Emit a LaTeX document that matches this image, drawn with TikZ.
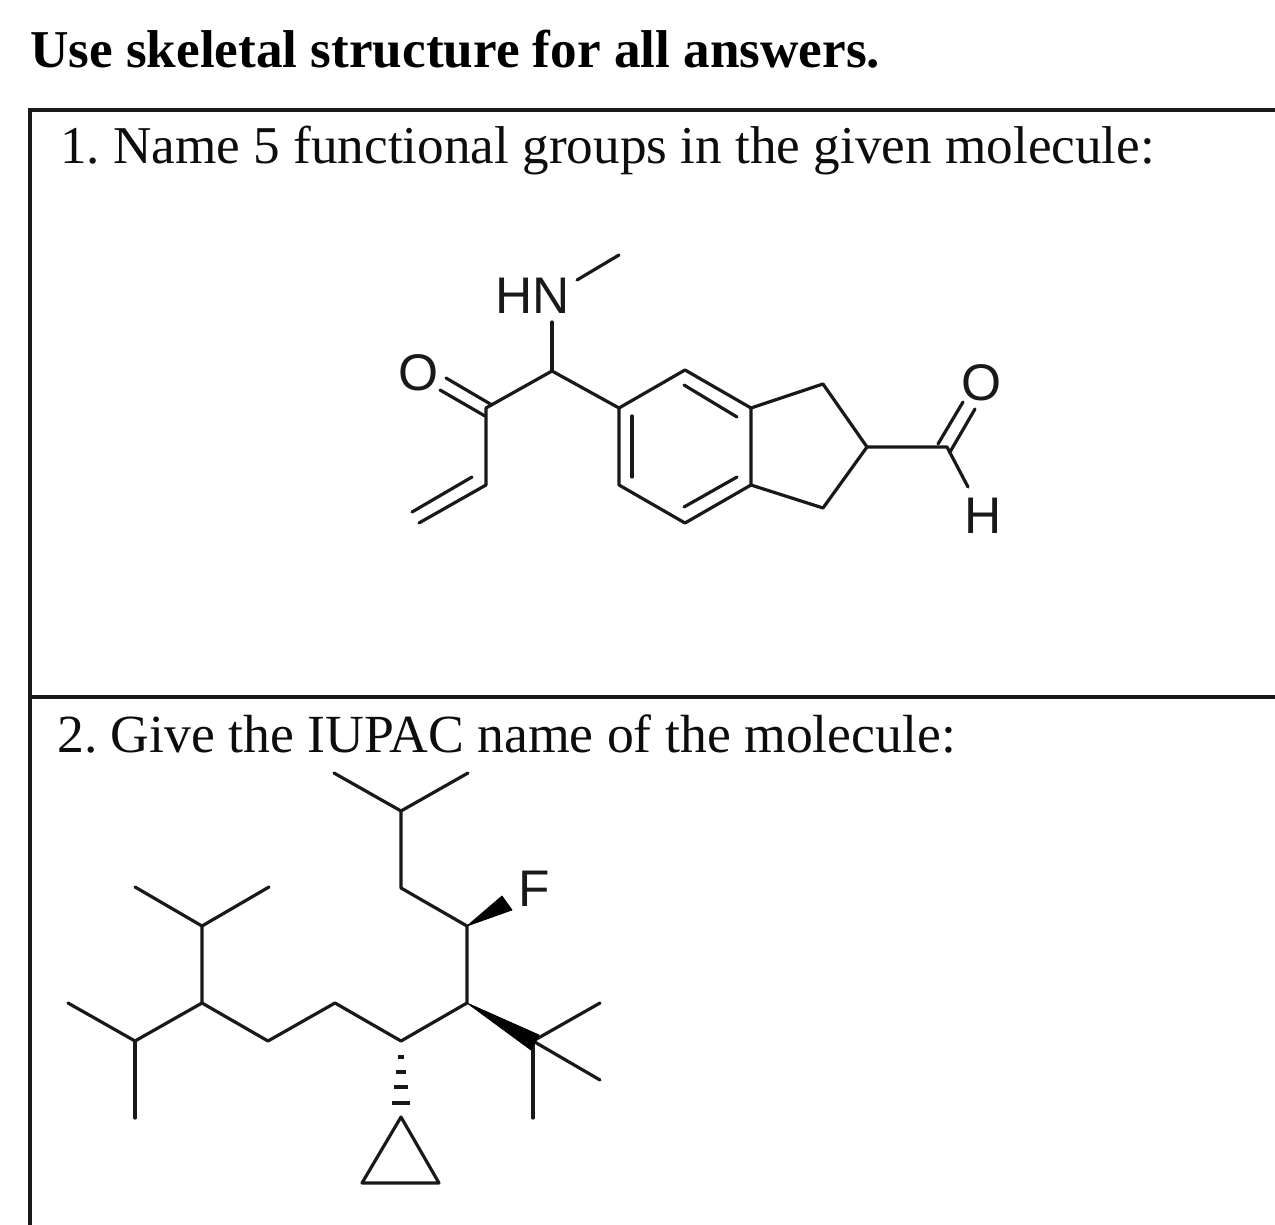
\documentclass[tikz,border=0pt]{standalone}
\usepackage{fontspec}
\setmainfont{Liberation Serif}
\newfontfamily\chemfont{Liberation Sans}
\tikzset{
  bond/.style={line width=3.2pt,line cap=round,line join=round,black!90},
  frameline/.style={line width=3.2pt,black!90},
  wedgefill/.style={fill=black,draw=black,line width=0.8pt,line join=round},
  hashbar/.style={line width=3.2pt,black!90},
  headtext/.style={anchor=base west,inner sep=0pt,font=\fontsize{53.2}{54}\selectfont\bfseries\frenchspacing,black},
  qtext/.style={anchor=base west,inner sep=0pt,font=\fontsize{53.2}{54}\selectfont\frenchspacing,black!95},
  qtextb/.style={anchor=base west,inner sep=0pt,font=\fontsize{53.7}{54}\selectfont\frenchspacing,black!95},
  atomlabel/.style={inner sep=0pt,font=\fontsize{51.5}{52}\selectfont\chemfont,black!90}
}
\begin{document}
\begin{tikzpicture}[x=1pt,y=-1pt]
\useasboundingbox (0,0) rectangle (1275,1225);
% frame
\coordinate (ftl) at (30,110); \coordinate (ftr) at (1275,110);
\coordinate (fbl) at (30,1225); \coordinate (fml) at (30,697); \coordinate (fmr) at (1275,697);
\draw[frameline] (ftr) -- (ftl) -- (fbl);
\draw[frameline] (fml) -- (fmr);
% texts
\node[headtext] (head) at (30,68) {Use skeletal structure for all answers.};
\node[qtext] (q1) at (60,164) {1. Name 5 functional groups in the given molecule:};
\node[qtextb] (q2) at (57,752) {2. Give the IUPAC name of the molecule:};
% molecule 1 atoms
\node[atomlabel] (hn) at (533,296) {HN};
\node[atomlabel] (o1) at (419,373) {O};
\node[atomlabel] (o2) at (982,383) {O};
\node[atomlabel] (h2) at (983,516) {H};
\coordinate (nb) at (552,322); \coordinate (ca) at (552,371);
\coordinate (me1) at (577,280); \coordinate (me2) at (619,255);
\coordinate (ck) at (486,408); \coordinate (cv) at (486,485); \coordinate (ct) at (419,523);
\coordinate (cti1) at (472,477); \coordinate (cti2) at (412,512);
\coordinate (ok1a) at (440,390); \coordinate (ok1b) at (485,416);
\coordinate (ok2a) at (446,378); \coordinate (ok2b) at (492,405);
\coordinate (r1) at (619,408); \coordinate (r2) at (685,370); \coordinate (r3) at (751,408);
\coordinate (r4) at (751,485); \coordinate (r5) at (685,523); \coordinate (r6) at (619,485);
\coordinate (i1a) at (632,416); \coordinate (i1b) at (632,477);
\coordinate (i2a) at (684,385); \coordinate (i2b) at (737,417);
\coordinate (i3a) at (684,507); \coordinate (i3b) at (737,477);
\coordinate (p1) at (823,384); \coordinate (p2) at (867,447); \coordinate (p3) at (823,508);
\coordinate (cho) at (947,447); \coordinate (hb) at (968,487);
\coordinate (oa1) at (938,444); \coordinate (oa2) at (963,402);
\coordinate (ob1) at (950,452); \coordinate (ob2) at (975,409);
% molecule 1 bonds
\draw[bond] (nb) -- (ca);
\draw[bond] (me1) -- (me2);
\draw[bond] (cv) -- (ck) -- (ca) -- (r1);
\draw[bond] (cv) -- (ct);
\draw[bond] (cti1) -- (cti2);
\draw[bond] (ok1a) -- (ok1b);
\draw[bond] (ok2a) -- (ok2b);
\draw[bond] (r1) -- (r2) -- (r3) -- (r4) -- (r5) -- (r6) -- cycle;
\draw[bond] (i1a) -- (i1b);
\draw[bond] (i2a) -- (i2b);
\draw[bond] (i3a) -- (i3b);
\draw[bond] (r3) -- (p1) -- (p2) -- (p3) -- (r4);
\draw[bond] (p2) -- (cho) -- (hb);
\draw[bond] (oa1) -- (oa2);
\draw[bond] (ob1) -- (ob2);
% molecule 2 atoms
\node[atomlabel] (f) at (534,889) {F};
\coordinate (a1) at (334,773); \coordinate (a2) at (468,773); \coordinate (a3) at (401,811);
\coordinate (a4) at (401,888); \coordinate (a5) at (467,926); \coordinate (a6) at (467,1003);
\coordinate (a7) at (401,1041); \coordinate (a8) at (335,1003); \coordinate (a9) at (268,1041);
\coordinate (a10) at (202,1003); \coordinate (a11) at (135,1041); \coordinate (a12) at (68,1003);
\coordinate (a13) at (135,1118); \coordinate (a14) at (202,926); \coordinate (a15) at (135,887);
\coordinate (a16) at (269,887);
\coordinate (tb) at (533,1041); \coordinate (tb1) at (600,1003); \coordinate (tb2) at (600,1080);
\coordinate (tb3) at (533,1118);
\coordinate (w1a) at (502,896); \coordinate (w1b) at (512,910);
\coordinate (w2a) at (539,1035); \coordinate (w2b) at (531,1050);
\coordinate (cp1) at (401,1117); \coordinate (cp2) at (362,1183); \coordinate (cp3) at (439,1183);
% molecule 2 bonds
\draw[bond] (a1) -- (a3) -- (a2);
\draw[bond] (a3) -- (a4) -- (a5) -- (a6) -- (a7) -- (a8) -- (a9) -- (a10) -- (a11) -- (a12);
\draw[bond] (a11) -- (a13);
\draw[bond] (a10) -- (a14) -- (a15);
\draw[bond] (a14) -- (a16);
\draw[bond] (tb1) -- (tb) -- (tb2);
\draw[bond] (tb) -- (tb3);
\filldraw[wedgefill] (a5) -- (w1a) -- (w1b) -- cycle;
\filldraw[wedgefill] (a6) -- (w2a) -- (w2b) -- cycle;
\draw[bond] (cp1) -- (cp2) -- (cp3) -- cycle;
\coordinate (h1l) at (398,1057); \coordinate (h1r) at (404,1057);
\coordinate (h2l) at (396,1072); \coordinate (h2r) at (406,1072);
\coordinate (h3l) at (394,1087); \coordinate (h3r) at (408,1087);
\coordinate (h4l) at (392,1103); \coordinate (h4r) at (410,1103);
\draw[hashbar] (h1l) -- (h1r);
\draw[hashbar] (h2l) -- (h2r);
\draw[hashbar] (h3l) -- (h3r);
\draw[hashbar] (h4l) -- (h4r);
\end{tikzpicture}
\end{document}
